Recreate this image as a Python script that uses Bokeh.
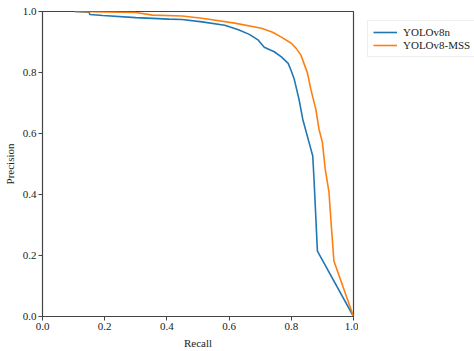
from bokeh.plotting import figure
from bokeh.layouts import row
from bokeh.models import Legend, LegendItem, FixedTicker, NumeralTickFormatter, Range1d
from bokeh.embed import file_html
from bokeh.resources import INLINE

ticks = [0.0, 0.2, 0.4, 0.6, 0.8, 1.0]
series_names = ["YOLOv8n", "YOLOv8-MSS"]

v8n_recall = [0.104, 0.15, 0.152, 0.194, 0.3, 0.407, 0.449, 0.513, 0.586, 0.63, 0.665, 0.694,
              0.713, 0.745, 0.768, 0.79, 0.80, 0.81, 0.825, 0.837, 0.857, 0.869, 0.873, 0.884, 1.0]
v8n_precision = [1.0, 0.998, 0.99, 0.987, 0.98, 0.975, 0.974, 0.966, 0.955, 0.94, 0.925, 0.906,
                 0.883, 0.868, 0.851, 0.83, 0.805, 0.776, 0.711, 0.646, 0.571, 0.526, 0.451, 0.214, 0.0]

mss_recall = [0.104, 0.3, 0.354, 0.449, 0.513, 0.618, 0.704, 0.74, 0.768, 0.8, 0.815, 0.831, 0.852,
              0.863, 0.879, 0.889, 0.9, 0.909, 0.921, 0.927, 0.937, 1.0]
mss_precision = [1.0, 0.997, 0.988, 0.985, 0.978, 0.962, 0.945, 0.932, 0.916, 0.896, 0.88, 0.857, 0.798,
                 0.744, 0.679, 0.614, 0.571, 0.484, 0.409, 0.321, 0.182, 0.0]

FONT = "Liberation Serif"
BLUE = "#1f77b4"
ORANGE = "#ff7f0e"

p = figure(width=358, height=351, output_backend="svg", toolbar_location=None,
           x_range=Range1d(0, 1), y_range=Range1d(0, 1),
           min_border_left=39, min_border_right=5, min_border_top=11, min_border_bottom=32)
p.background_fill_color = "white"
p.border_fill_color = "white"
p.grid.visible = False
p.outline_line_color = "#444444"
p.outline_line_width = 1.2

p.line(v8n_recall, v8n_precision, line_color=BLUE, line_width=1.6)
p.line(mss_recall, mss_precision, line_color=ORANGE, line_width=1.6)

for ax in (p.xaxis[0], p.yaxis[0]):
    ax.ticker = FixedTicker(ticks=ticks)
    ax.formatter = NumeralTickFormatter(format="0.0")
    ax.minor_tick_line_color = None
    ax.major_tick_out = 4
    ax.major_tick_in = 0
    ax.axis_line_color = "#444444"
    ax.major_tick_line_color = "#444444"
    ax.major_label_text_font = FONT
    ax.major_label_text_font_size = "11px"
    ax.major_label_text_color = "#222222"
    ax.axis_label_text_font = FONT
    ax.axis_label_text_font_size = "11px"
    ax.axis_label_text_font_style = "normal"
    ax.axis_label_text_color = "#222222"
    ax.major_label_standoff = 2
    ax.axis_label_standoff = 4

p.xaxis.axis_label = "Recall"
p.yaxis.axis_label = "Precision"

# legend panel (proxy lines outside the visible range)
q = figure(width=116, height=351, output_backend="svg", toolbar_location=None,
           x_range=Range1d(0, 1), y_range=Range1d(0, 1),
           min_border=0)
q.axis.visible = False
q.grid.visible = False
q.outline_line_color = None
q.background_fill_color = "white"
q.border_fill_color = "white"
d1 = q.line([-5, -4], [-5, -4], line_color=BLUE, line_width=1.6)
d2 = q.line([-5, -4], [-5, -4], line_color=ORANGE, line_width=1.6)

legend = Legend(items=[LegendItem(label=series_names[0], renderers=[d1]),
                       LegendItem(label=series_names[1], renderers=[d2])],
                location="top_left")
legend.label_text_font = FONT
legend.label_text_font_size = "11px"
legend.label_text_color = "#222222"
legend.border_line_color = "#dddddd"
legend.glyph_width = 24
legend.glyph_height = 12
legend.label_height = 12
legend.spacing = 1
legend.padding = 5
legend.margin = 9
legend.label_standoff = 6
q.add_layout(legend, "center")

layout = row(p, q, spacing=0)
open("out.html", "w").write(file_html(layout, INLINE))
